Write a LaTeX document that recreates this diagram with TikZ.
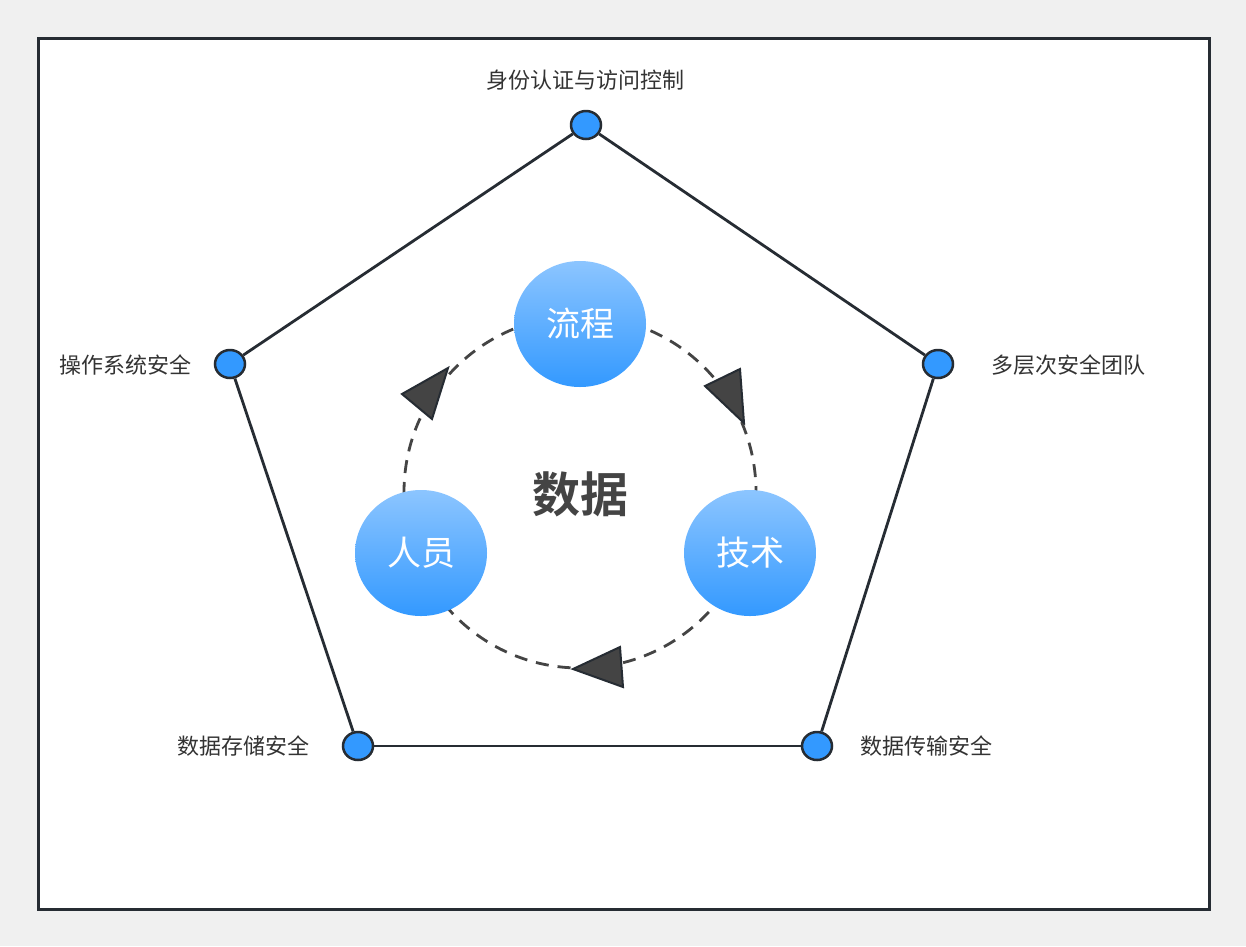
\documentclass[tikz,border=0pt]{standalone}
\usepackage{fontspec}
\setmainfont{Noto Sans CJK SC}[BoldFont={Noto Sans CJK SC Bold}]
\usetikzlibrary{shapes.geometric}
\definecolor{bgc}{HTML}{F0F0F0}
\definecolor{framec}{HTML}{262C33}
\definecolor{vblue}{HTML}{3399FF}
\definecolor{ltop}{HTML}{8CC5FF}
\definecolor{dgray}{HTML}{444444}
\definecolor{txtc}{HTML}{333333}
\tikzset{
  vert/.style={ellipse, draw=framec, line width=2.5pt, fill=vblue, minimum width=30pt, minimum height=28pt, inner sep=0pt},
  edge/.style={draw=framec, line width=2.8pt},
  lab/.style={text=txtc, font=\fontsize{22}{26}\selectfont, inner sep=0pt},
  role/.style={ellipse, minimum width=132pt, minimum height=126pt, inner sep=0pt, shading=axis, top color=ltop, bottom color=vblue, text=white, font=\fontsize{34}{40}\selectfont},
  cyc/.style={draw=dgray, line width=2.8pt, dash pattern=on 13pt off 9pt},
  tri/.style={fill=dgray, draw=framec, line width=2pt, line join=miter}
}
\begin{document}
\begin{tikzpicture}[x=1pt,y=-1pt]
\useasboundingbox[fill=bgc] (0,0) rectangle (1246,946);
\draw[fill=white, draw=framec, line width=3pt] (38,38) rectangle (1209,909);
% pentagon vertices
\node[vert] (pt) at (586,125) {};
\node[vert] (pl) at (230,364) {};
\node[vert] (pr) at (938,364) {};
\node[vert] (pbl) at (358,746) {};
\node[vert] (pbr) at (817,746) {};
\draw[edge] (pt) -- (pr);
\draw[edge] (pr) -- (pbr);
\draw[edge] (pbr) -- (pbl);
\draw[edge] (pbl) -- (pl);
\draw[edge] (pl) -- (pt);
% labels
\node[lab] (lt) at (585,80) {身份认证与访问控制};
\node[lab, anchor=east] (ll) at (192,365) {操作系统安全};
\node[lab, anchor=west] (lr) at (991,365) {多层次安全团队};
\node[lab, anchor=east] (lbl) at (310,746) {数据存储安全};
\node[lab, anchor=west] (lbr) at (860,746) {数据传输安全};
% cycle
\coordinate (cc) at (580,492);
\draw[cyc] (cc) circle[radius=176];
\node[role] (flow) at (580,324) {流程};
\node[role] (ppl) at (421,553) {人员};
\node[role] (tech) at (750,553) {技术};
\node[text=dgray, font=\bfseries\fontsize{48}{56}\selectfont] (data) at (580,494) {数据};
% arrowheads
\draw[tri] (448,368) -- (402,394) -- (432,419) -- cycle;
\draw[tri] (744,423) -- (705,386) -- (740,369) -- cycle;
\draw[tri] (573,669) -- (620,647) -- (623,687) -- cycle;
\end{tikzpicture}
\end{document}
